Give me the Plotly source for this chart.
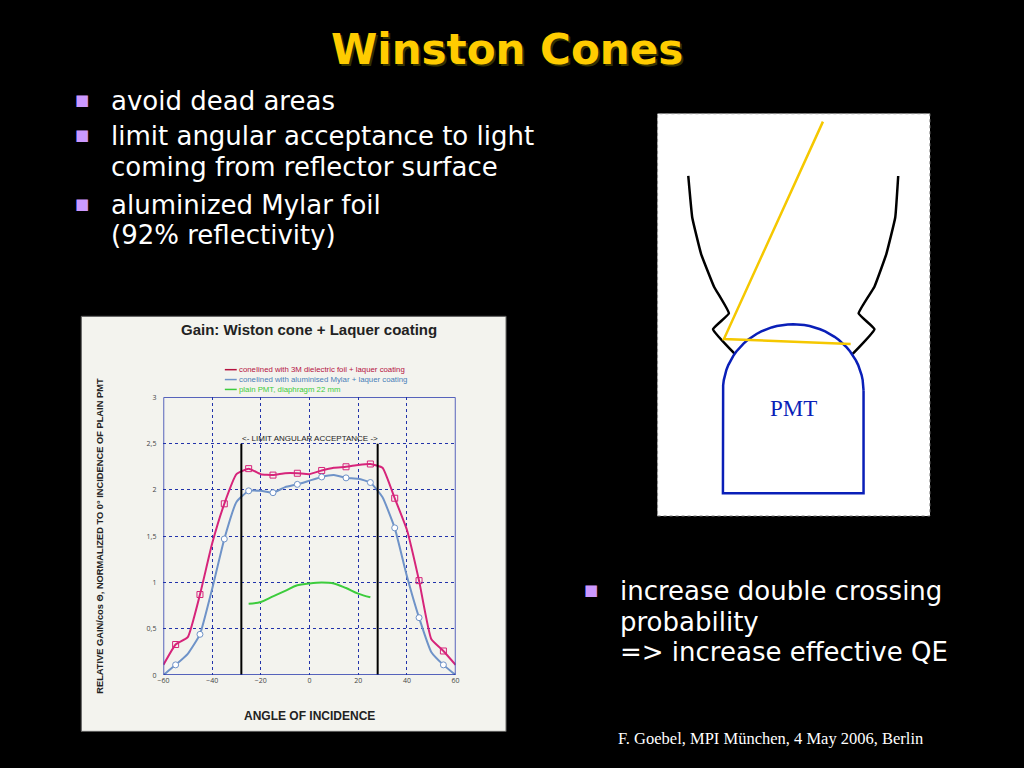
import plotly.graph_objects as go
import math

# ---------------- data ----------------
angles = [-60, -55, -50, -45, -40, -35, -30, -25, -20, -15, -10, -5, 0, 5, 10, 15, 20, 25, 30, 35, 40, 45, 50, 55, 60]
gain_dielectric = [0.11, 0.33, 0.41, 0.87, 1.42, 1.85, 2.17, 2.23, 2.17, 2.16, 2.18, 2.18, 2.17, 2.21, 2.24, 2.25, 2.27, 2.28, 2.24, 1.91, 1.57, 1.02, 0.39, 0.26, 0.11]
gain_mylar = [0.00, 0.11, 0.23, 0.44, 0.93, 1.47, 1.87, 1.99, 1.99, 1.97, 2.03, 2.06, 2.10, 2.14, 2.16, 2.13, 2.12, 2.08, 1.92, 1.59, 1.07, 0.62, 0.25, 0.11, 0.00]
green_angles = [-25, -20, -15, -10, -5, 0, 5, 10, 15, 20, 25]
gain_plain = [0.77, 0.79, 0.85, 0.91, 0.97, 0.99, 1.00, 0.99, 0.94, 0.88, 0.84]
marker_angles_dielectric = [-55, -45, -35, -25, -15, -5, 5, 15, 25, 35, 45, 55]
marker_angles_mylar = [-55, -45, -35, -25, -15, -5, 5, 15, 25, 35, 45, 55]
acceptance_limits = [-28, 28]
x_ticks = [-60, -40, -20, 0, 20, 40, 60]
y_ticks = [0, 0.5, 1, 1.5, 2, 2.5, 3]
y_tick_labels = ["0", "0,5", "1", "1,5", "2", "2,5", "3"]

# diagram outline (drawing units = slide pixels)
cone_left_x = [689, 693, 702, 715, 730, 714, 736]
cone_left_y = [173, 215, 252, 285, 312, 328, 353]
cone_right_x = [901, 898, 889, 877, 861, 877, 855]
cone_right_y = [173, 215, 252, 285, 312, 328, 353]
ray_x = [825, 725, 853]
ray_y = [118, 338, 343]
pmt_left, pmt_right, pmt_bottom, pmt_shoulder, pmt_top = 724, 866, 494, 390, 323

BG = "#f3f3ee"
W, H = 1024, 768
def px2x(p): return p / W
def px2y(p): return 1 - p / H

fig = go.Figure()

def sel(xs, ys, keep):
    return [x for x in xs if x in keep], [y for x, y in zip(xs, ys) if x in keep]

fig.add_trace(go.Scatter(x=angles, y=gain_dielectric, mode="lines", line=dict(color="#d6247a", width=2, shape="spline", smoothing=0.4), hoverinfo="skip"))
mx, my = sel(angles, gain_dielectric, marker_angles_dielectric)
fig.add_trace(go.Scatter(x=mx, y=my, mode="markers", marker=dict(symbol="square-open", color="#d6247a", size=6), hoverinfo="skip"))
fig.add_trace(go.Scatter(x=angles, y=gain_mylar, mode="lines", line=dict(color="#6f93c8", width=2, shape="spline", smoothing=0.4), hoverinfo="skip"))
mx, my = sel(angles, gain_mylar, marker_angles_mylar)
fig.add_trace(go.Scatter(x=mx, y=my, mode="markers", marker=dict(symbol="circle", color="white", size=6, line=dict(color="#6f93c8", width=1)), hoverinfo="skip"))
fig.add_trace(go.Scatter(x=green_angles, y=gain_plain, mode="lines", line=dict(color="#3ccc3c", width=2, shape="spline"), hoverinfo="skip"))
for a_ in acceptance_limits:
    fig.add_trace(go.Scatter(x=[a_, a_], y=[0, 2.5], mode="lines", line=dict(color="black", width=2), hoverinfo="skip"))

# diagram
fig.add_trace(go.Scatter(x=cone_left_x, y=cone_left_y, xaxis="x2", yaxis="y2", mode="lines", line=dict(color="black", width=2.5, shape="spline", smoothing=0.3), hoverinfo="skip"))
fig.add_trace(go.Scatter(x=cone_right_x, y=cone_right_y, xaxis="x2", yaxis="y2", mode="lines", line=dict(color="black", width=2.5, shape="spline", smoothing=0.3), hoverinfo="skip"))

cx = (pmt_left + pmt_right) / 2
a = (pmt_right - pmt_left) / 2
b = pmt_shoulder - pmt_top
dome_x, dome_y = [], []
for i in range(41):
    t = math.pi - math.pi * i / 40
    dome_x.append(cx + a * math.cos(t))
    dome_y.append(pmt_shoulder - b * math.sin(t))
px = [pmt_right, pmt_right, pmt_left, pmt_left] + dome_x
py = [pmt_shoulder, pmt_bottom, pmt_bottom, pmt_shoulder] + dome_y
fig.add_trace(go.Scatter(x=px, y=py, xaxis="x2", yaxis="y2", mode="lines", line=dict(color="#0a1fb8", width=2.5), hoverinfo="skip"))
fig.add_trace(go.Scatter(x=ray_x, y=ray_y, xaxis="x2", yaxis="y2", mode="lines", line=dict(color="#f5c800", width=2.5), hoverinfo="skip"))

shapes = [
    dict(type="rect", xref="paper", yref="paper", x0=px2x(76), x1=px2x(505), y0=px2y(735), y1=px2y(315), fillcolor=BG, line=dict(color="#555", width=1), layer="below"),
    dict(type="rect", xref="paper", yref="paper", x0=px2x(658), x1=px2x(933), y0=px2y(517), y1=px2y(110), fillcolor="white", line=dict(color="#888", width=1, dash="dot"), layer="below"),
    dict(type="rect", xref="x", yref="y", x0=-60, x1=60, y0=0, y1=3, line=dict(color="#2233aa", width=1.5)),
]

def A(x, y, text, size, color, family="DejaVu Sans", xanchor="center", **kw):
    return dict(xref="paper", yref="paper", x=px2x(x), y=px2y(y), text=text, showarrow=False,
                xanchor=xanchor, yanchor="middle", font=dict(size=size, color=color, family=family), **kw)

legend_items = [("#b5123f", "coneIined with 3M dielectric foil + laquer coating", "#b5123f"),
                ("#6f93c8", "coneIined with aluminised Mylar + laquer coating", "#4a7fb8"),
                ("#3ccc3c", "plain PMT, diaphragm 22 mm", "#3ccc3c")]
ann = []
for i, (lc, txt, tc) in enumerate(legend_items):
    yy = 369 + 10 * i
    shapes.append(dict(type="line", xref="paper", yref="paper", x0=px2x(221), x1=px2x(233), y0=px2y(yy), y1=px2y(yy), line=dict(color=lc, width=1.5)))
    ann.append(A(233, yy, txt, 7.8, tc, "Liberation Sans", xanchor="left"))

ann += [
    A(508, 47, "<b>Winston Cones</b>", 42, "#333300"),
    A(506, 45, "<b>Winston Cones</b>", 42, "#ffcc00"),
    A(306, 328, "<b>Gain: Wiston cone + Laquer coating</b>", 15, "#222", "Liberation Sans"),
    A(306, 719, "<b>ANGLE OF INCIDENCE</b>", 12, "#222", "Liberation Sans"),
    A(95, 537, "<b>RELATIVE GAIN/cos Θ, NORMALIZED TO 0° INCIDENCE OF PLAIN PMT</b>", 9.3, "#222", "Liberation Sans", textangle=-90),
    dict(x=0, y=2.56, text="<- LIMIT ANGULAR ACCEPTANCE ->", showarrow=False, xanchor="center", yanchor="middle", font=dict(size=8, color="#222", family="Liberation Sans")),
    dict(xref="x2", yref="y2", x=cx, y=408, text="PMT", showarrow=False, xanchor="center", yanchor="middle", font=dict(size=23, color="#0a1fb8", family="Liberation Serif")),
    A(928, 742, "F. Goebel, MPI München, 4 May 2006, Berlin", 16.5, "white", "Liberation Serif", xanchor="right"),
]
bullets = [(97, "avoid dead areas", True, 104), (133, "limit angular acceptance to light", True, 104),
           (164, "coming from reflector surface", False, 104), (202, "aluminized Mylar foil", True, 104),
           (233, "(92% reflectivity)", False, 104), (593, "increase double crossing", True, 618),
           (624, "probability", False, 618), (655, "=> increase effective QE", False, 618)]
for yy, txt, sq, xx in bullets:
    ann.append(A(xx, yy, txt, 26, "white", xanchor="left"))
    if sq:
        ann.append(A(xx - 36, yy - 1, "■", 15, "#cc99ff", xanchor="left"))

fig.update_layout(
    width=W, height=H, margin=dict(l=0, r=0, t=0, b=0),
    paper_bgcolor="black", plot_bgcolor="white", showlegend=False,
    shapes=shapes, annotations=ann,
    xaxis=dict(domain=[px2x(159), px2x(454)], range=[-60, 60], tickvals=x_ticks, showgrid=True, gridcolor="#2233aa", griddash="dot", gridwidth=1,
               zeroline=False, tickfont=dict(size=7, color="#444"), fixedrange=True),
    yaxis=dict(domain=[px2y(678), px2y(397)], range=[0, 3], tickvals=y_ticks, ticktext=y_tick_labels, showgrid=True, gridcolor="#2233aa", griddash="dot",
               zeroline=False, tickfont=dict(size=7, color="#444"), ticklabelstandoff=6, fixedrange=True),
    xaxis2=dict(domain=[px2x(658), px2x(933)], range=[658, 933], visible=False, fixedrange=True),
    yaxis2=dict(domain=[px2y(517), px2y(110)], range=[517, 110], visible=False, fixedrange=True),
)
fig.write_html("out.html", config={"displayModeBar": False},
               post_script="document.body.style.margin='0';document.body.style.overflow='hidden';document.body.style.background='black';")
